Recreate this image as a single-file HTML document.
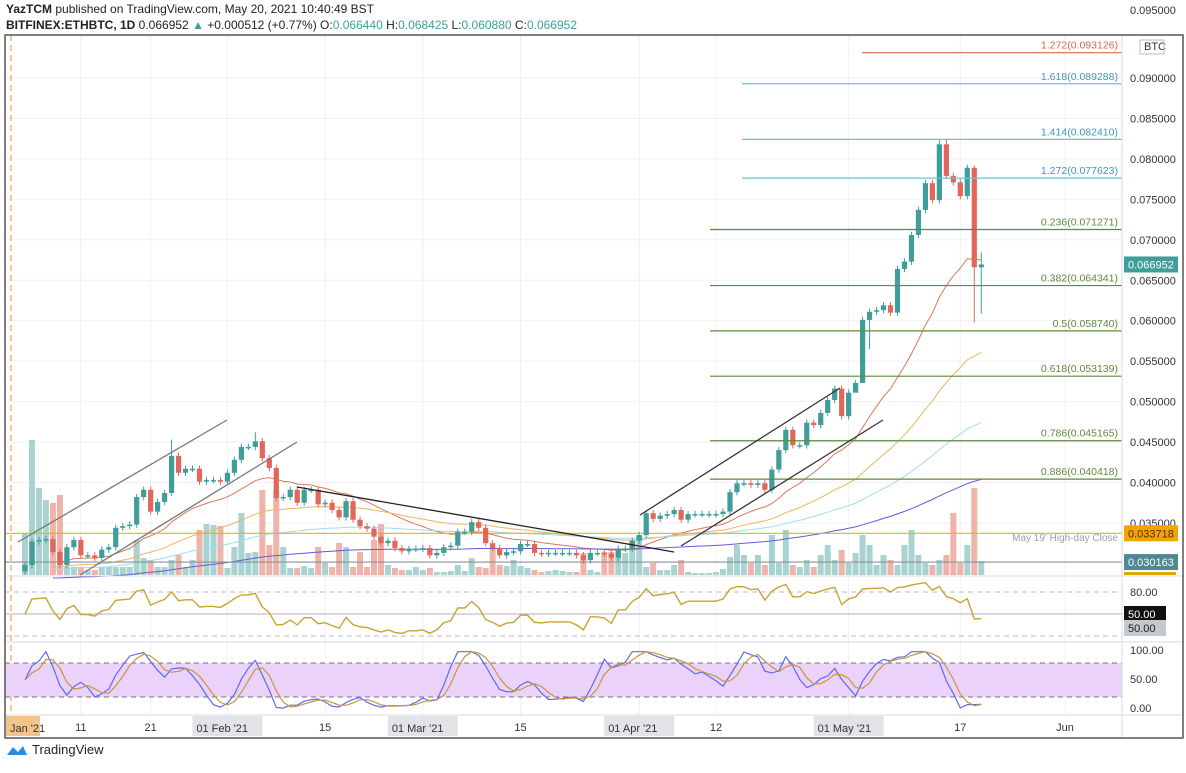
<!DOCTYPE html>
<html><head><meta charset="utf-8"><style>
body{margin:0;background:#fff;}
svg text{font-family:"Liberation Sans",sans-serif;}
</style></head><body>
<svg id="c" width="1186" height="768" xmlns="http://www.w3.org/2000/svg">
<rect width="1186" height="768" fill="#fff"/>
<g id="grid"></g>
<g id="vol"></g>
<g id="lines"></g>
<g id="candles"></g>
<g id="ind"></g>
<g id="over"></g>
<g id="axes"></g>
</svg>
<script>
const closes = [0.0298,0.0327,0.0329,0.0330,0.0314,0.0298,0.0320,0.0329,0.0310,0.0310,0.0307,0.0317,0.0320,0.0344,0.0346,0.0348,0.0382,0.0391,0.0364,0.0376,0.0387,0.0433,0.0412,0.0417,0.0417,0.0401,0.0403,0.0403,0.0401,0.0412,0.0428,0.0444,0.0444,0.0451,0.0430,0.0418,0.0381,0.0382,0.0391,0.0375,0.0391,0.0391,0.0373,0.0375,0.0366,0.0357,0.0377,0.0354,0.0346,0.0343,0.0333,0.0325,0.0328,0.0319,
0.0315,0.0318,0.0318,0.0319,0.0310,0.0313,0.0320,0.0322,0.0339,0.0339,0.0351,0.0344,0.0325,0.0319,0.0310,0.0314,0.0315,0.0324,0.0324,0.0313,0.0312,0.0313,0.0313,0.0313,0.0313,0.0310,0.0304,0.0313,0.0313,0.0312,0.0307,0.0318,0.0318,0.0328,0.0335,0.0362,0.0355,0.0359,0.0361,0.0366,0.0354,0.0361,0.0361,0.0361,0.0361,0.0361,0.0364,
0.0388,0.0399,0.0399,0.0397,0.0399,0.0391,0.0416,0.0440,0.0465,0.0446,0.0446,0.0474,0.0471,0.0486,0.0502,0.0516,0.0482,0.0511,0.0523,0.0601,0.0611,0.0613,0.0619,0.0610,0.0664,0.0673,0.0706,0.0737,0.0770,0.0749,0.0818,0.0779,0.0771,0.0754,0.0789,0.0666,0.06695];
const volumes = [42,135,87,75,72,80,8,8,8,5,5,8,8,8,8,8,35,17,15,8,8,15,20,8,15,45,51,50,49,7,28,62,22,23,85,30,85,28,7,7,9,7,28,12,8,32,28,8,23,8,35,51,10,7,
5,5,8,5,7,3,3,4,10,4,17,8,7,27,10,9,15,9,7,5,3,4,5,4,3,3,22,5,3,23,23,23,22,35,40,8,12,5,5,10,15,3,2,2,2,3,6,
18,30,20,12,20,10,40,12,45,10,8,15,8,20,30,15,25,12,22,40,30,10,20,15,10,30,45,20,12,10,15,20,62,12,30,87,14];
const firstOpen = 0.0290;
const highOverrides = {21:0.0453,33:0.0462,131:0.0823,132:0.0825,136:0.0792,137:0.06843};
const lowOverrides = {120:0.0576,121:0.0565,136:0.0598,137:0.06088,119:0.0520};
const maPeriods = [20,50,100,200];
const maSeeds = [0.029,0.029,0.029,0.028];
const maColors = ['#d9795a','#f0b45e','#9fdcf0','#6a5ad8'];
const rsiPeriod = 8;
const priceTicks = [0.090,0.085,0.080,0.075,0.070,0.065,0.060,0.055,0.050,0.045,0.040,0.035];
const fibLabels = ['1.272(0.093126)','1.618(0.089288)','1.414(0.082410)','1.272(0.077623)','0.236(0.071271)','0.382(0.064341)','0.5(0.058740)','0.618(0.053139)','0.786(0.045165)','0.886(0.040418)'];
const fibValues = [0.093126,0.089288,0.082410,0.077623,0.071271,0.064341,0.058740,0.053139,0.045165,0.040418];
const fibStarts = [862,742,742,742,710,710,710,710,710,710];
const fibColors = ['#d9665a','#6fc0d6','#6fc0d6','#6fc0d6','#5f8a3c','#5f8a3c','#5f8a3c','#5f8a3c','#5f8a3c','#5f8a3c'];
const dateLabels = ["Jan '21",'11','21',"01 Feb '21",'15',"01 Mar '21",'15',"01 Apr '21",'12',"01 May '21",'17','Jun'];
const dateDays = [0,10,20,31,45,59,73,90,101,120,136,151];

const NS='http://www.w3.org/2000/svg';
function el(par,tag,attrs,txt){const e=document.createElementNS(NS,tag);for(const k in attrs)e.setAttribute(k,attrs[k]);if(txt!==undefined)e.textContent=txt;document.getElementById(par).appendChild(e);return e;}
const xOf=i=>25+i*6.98;
const xDay=d=>11+d*6.98;
const yP=p=>78+(0.090-p)*8090;
const X0=5,X1=1122;

priceTicks.forEach(p=>{const l=el('grid','line',{x1:X0,x2:X1,y1:yP(p),y2:yP(p),stroke:'#f0f2f6'});

});
dateDays.forEach((d,k)=>{if(k===0)return;const l=el('grid','line',{x1:xDay(d),x2:xDay(d),y1:35,y2:715,stroke:'#eef0f4'});

});
const jl=el('grid','line',{x1:11,x2:11,y1:35,y2:715,stroke:'#e8a640','stroke-dasharray':'6,4','stroke-width':1.2});



const opens=closes.map((c,i)=>i===0?firstOpen:closes[i-1]);
closes.forEach((c,i)=>{
 const o=opens[i],up=c>=o,x=xOf(i);
 const h=highOverrides[i]!==undefined?highOverrides[i]:Math.max(o,c)+0.0004;
 const lo=lowOverrides[i]!==undefined?lowOverrides[i]:Math.min(o,c)-0.0004;
 const col=up?'#3f9e9a':'#e0675a';
 const v=el('vol','rect',{x:x-3,y:575-volumes[i],width:6,height:volumes[i],fill:up?'#a9d3d0':'#efb3aa'});
 
 
 const w=el('candles','line',{x1:x,x2:x,y1:yP(h),y2:yP(lo),stroke:col,'stroke-width':1});
 
 
 const t=Math.min(yP(o),yP(c)),bh=Math.max(1.5,Math.abs(yP(o)-yP(c)));
 const b=el('candles','rect',{x:x-2.6,y:t,width:5.2,height:bh,fill:col});
 
 
});

maPeriods.forEach((n,k)=>{let e=maSeeds[k];const a=2/(n+1);let pts=[];
 closes.forEach((c,i)=>{e=e+a*(c-e);if(i>=4)pts.push(xOf(i).toFixed(1)+','+yP(e).toFixed(1));});
 const pl=el('lines','polyline',{points:pts.join(' '),fill:'none',stroke:maColors[k],'stroke-width':1});
 
 });

[[0.033718,'#e0b419'],[0.030163,'#8a9299']].forEach(([p,c])=>{const l=el('lines','line',{x1:X0,x2:X1,y1:yP(p),y2:yP(p),stroke:c,'stroke-width':1.2});

});
const mt=el('over','text',{x:1118,y:541,'font-size':10,fill:'#9aa0a6','text-anchor':'end'},"May 19' High-day Close");


fibValues.forEach((p,k)=>{const y=yP(p);
 const l=el('over','line',{x1:fibStarts[k],x2:X1,y1:y,y2:y,stroke:fibColors[k],'stroke-width':1.2});
 
 
 const t=el('over','text',{x:1118,y:y-4,'font-size':10.5,fill:fibColors[k]==='#6fc0d6'?'#3a9ab5':fibColors[k],'text-anchor':'end'},fibLabels[k]);
 
 });

[[18,542,227,420,'#777'],[80,575,297,442,'#777'],[297,487,674,552,'#222'],[640,515,840,388,'#333'],[681,546,883,420,'#333']].forEach(s=>{
 const l=el('over','line',{x1:s[0],y1:s[1],x2:s[2],y2:s[3],stroke:s[4],'stroke-width':1.3});
 
 });

// RSI
let ag=0,al=0,rsi=[];
closes.forEach((c,i)=>{if(i===0){rsi.push(50);ag=0.0003;al=0.0003;return;}const d=c-closes[i-1];
 ag=(ag*(rsiPeriod-1)+Math.max(d,0))/rsiPeriod;al=(al*(rsiPeriod-1)+Math.max(-d,0))/rsiPeriod;rsi.push(100-100/(1+ag/al));});
const yR=v=>614-(v-50)*0.733;
[[80,592],[20,636]].forEach(([v,y])=>{const l=el('ind','line',{x1:X0,x2:X1,y1:y,y2:y,stroke:'#bbb','stroke-dasharray':'5,4'});

});
const rm=el('ind','line',{x1:X0,x2:X1,y1:614,y2:614,stroke:'#b9a9c9'});


const rl=el('ind','polyline',{points:rsi.map((v,i)=>xOf(i).toFixed(1)+','+Math.max(580,Math.min(640,yR(v))).toFixed(1)).join(' '),fill:'none',stroke:'#c9a430','stroke-width':1.4});



const yS=v=>663+(80-v)*0.567;
const band=el('ind','rect',{x:X0,y:yS(80),width:X1-X0,height:yS(20)-yS(80),fill:'#ead2fb'});


[80,20].forEach(v=>{const l=el('ind','line',{x1:X0,x2:X1,y1:yS(v),y2:yS(v),stroke:'#777','stroke-dasharray':'5,4'});

});
let st=rsi.map((v,i)=>{const w=rsi.slice(Math.max(0,i-13),i+1);const mn=Math.min(...w),mx=Math.max(...w);return mx>mn?(v-mn)/(mx-mn)*100:50;});
const sma3=a=>a.map((v,i)=>{const w=a.slice(Math.max(0,i-2),i+1);return w.reduce((s,x)=>s+x,0)/w.length;});
const K=sma3(st),D=sma3(K);
[[K,'#5b6cf0','stoch-k-line'],[D,'#c8963c','stoch-d-line']].forEach(([a,c,n])=>{
 const p=el('ind','polyline',{points:a.map((v,i)=>xOf(i).toFixed(1)+','+yS(v).toFixed(1)).join(' '),fill:'none',stroke:c,'stroke-width':1.2});
 
 });

[[X0,576,1183,576],[X0,642,1183,642],[X0,715,1183,715],[X1,35,X1,738]].forEach(s=>{const l=el('axes','line',{x1:s[0],y1:s[1],x2:s[2],y2:s[3],stroke:'#d8dbe0'});

});
const fr=el('axes','rect',{x:5,y:35,width:1178,height:703,fill:'none',stroke:'#555','stroke-width':1.5});


priceTicks.forEach(p=>{const t=el('axes','text',{x:1130,y:yP(p)+4,'font-size':11,fill:'#333'},p.toFixed(6));

});
const t95=el('axes','text',{x:1130,y:14,'font-size':11,fill:'#333'},'0.095000');


function box(x,y,w,h,bg,txt,fg,name){const r=el('axes','rect',{x:x,y:y,width:w,height:h,fill:bg});


const t=el('axes','text',{x:x+4,y:y+h-4,'font-size':11,fill:fg},txt);

}
box(1140,40,24,14,'#fff','BTC','#333','currency-label');
el('axes','rect',{x:1140,y:40,width:24,height:14,fill:'none',stroke:'#bbb'});
box(1124,yP(0.06695)-8,54,16,'#3f9e9a','0.066952','#fff','last-price-label');
box(1124,yP(0.033718)-8,54,16,'#f0a500','0.033718','#5a2a00','level-price-label');
box(1124,yP(0.030163)-8,54,16,'#4f8793','0.030163','#fff','level-price-label-2');
const gb=el('axes','rect',{x:1124,y:572,width:52,height:3,fill:'#e0a800'});


const r80=el('axes','text',{x:1130,y:596,'font-size':11,fill:'#333'},'80.00');


box(1124,606,42,16,'#111','50.00','#fff','rsi-value-label');
box(1124,620,42,16,'#c5c8cd','50.00','#222','rsi-ma-label');
[['100.00',654],['50.00',683],['0.00',712]].forEach(([s,y])=>{const t=el('axes','text',{x:1130,y:y,'font-size':11,fill:'#333'},s);

});
dateLabels.forEach((s,k)=>{const x=xDay(dateDays[k]);
 if(k===0){box(6,716,34,20,'#f3c38b',s,'#333','date-label');return;}
 if(s.length>4){const w=s.length*6.2+8;box(x-w/2,716,w,20,'#e1e3e6',s,'#333','date-label');return;}
 const t=el('axes','text',{x:x,y:731,'font-size':11,fill:'#333','text-anchor':'middle'},s);
 
 });
</script>
<div style="position:absolute;left:6px;top:2px;font:12px 'Liberation Sans',sans-serif;color:#222">
<div><b>YazTCM</b> published on TradingView.com, May 20, 2021 10:40:49 BST</div>
<div style="margin-top:2px"><b>BITFINEX:ETHBTC, 1D</b> 0.066952 <span style="color:#3f9e9a">▲</span> +0.000512 (+0.77%) O:<span style="color:#3f9e9a">0.066440</span> H:<span style="color:#3f9e9a">0.068425</span> L:<span style="color:#3f9e9a">0.060880</span> C:<span style="color:#3f9e9a">0.066952</span></div>
</div>
<div style="position:absolute;left:6px;top:742px;font:13px 'Liberation Sans',sans-serif;color:#222;display:flex;align-items:center;gap:4px">
<svg width="22" height="14"><path d="M1 12 L7 4 L12 9 L17 3 L21 12 Z" fill="#2a8ee0"/></svg>TradingView</div>
</body></html>
